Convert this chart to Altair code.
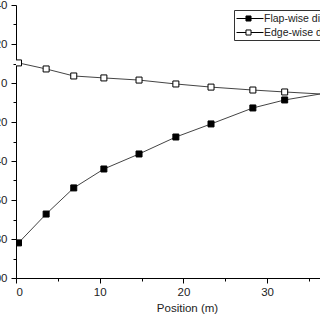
import altair as alt
import pandas as pd

positions = [0.3, 3.6, 6.9, 10.5, 14.7, 19.1, 23.3, 28.3, 32.1, 37.5]
flapwise = [-82.0, -67.2, -53.8, -44.1, -36.4, -27.7, -21.0, -12.8, -8.7, -4.8]
edgewise = [10.3, 7.2, 3.6, 2.6, 1.5, -0.5, -2.1, -3.6, -4.6, -5.9]
series_names = ["Flap-wise direction", "Edge-wise direction"]

x_major = [0, 10, 20, 30]
x_minor = [5, 15, 25, 35]
y_major = [40, 20, 0, -20, -40, -60, -80, -100]
y_minor = [30, 10, -10, -30, -50, -70, -90]

rows = []
for p, v in zip(positions, flapwise):
    rows.append({"pos": p, "val": v, "series": series_names[0]})
for p, v in zip(positions, edgewise):
    rows.append({"pos": p, "val": v, "series": series_names[1]})
df = pd.DataFrame(rows)

FONT = "Liberation Sans"
xscale = alt.Scale(domain=[0, 36.32], nice=False, zero=False)
yscale = alt.Scale(domain=[-100, 40], nice=False, zero=False)

legend_path = "M-1,0H0.58M1.42,0H3.5M0.58,-0.42H1.42V0.42H0.58Z"

lines = alt.Chart(df).mark_line(color="#444", strokeWidth=1, clip=True).encode(
    x=alt.X("pos:Q", scale=xscale,
            axis=alt.Axis(orient="bottom", values=x_minor, labels=False, domain=False,
                          grid=False, tickSize=3, tickColor="black", title=None)),
    y=alt.Y("val:Q", scale=yscale,
            axis=alt.Axis(orient="left", values=y_minor, labels=False, domain=False,
                          grid=False, tickSize=3, tickColor="black", title=None)),
    detail="series:N",
)

points = alt.Chart(df).mark_point(shape="square", size=36, stroke="black",
                                   strokeWidth=1, opacity=1, filled=False, clip=True).encode(
    x=alt.X("pos:Q", scale=xscale,
            axis=alt.Axis(orient="bottom", values=x_major, grid=False, tickSize=5,
                          tickColor="black", domainColor="black", labelColor="#222",
                          labelFont=FONT, labelFontSize=11.5, labelPadding=3,
                          title="Position (m)", titleFont=FONT, titleFontSize=11.5,
                          titleFontWeight="normal", titleColor="#222", titlePadding=5,
                          titleX=171)),
    y=alt.Y("val:Q", scale=yscale,
            axis=alt.Axis(orient="left", values=y_major, grid=False, tickSize=5,
                          tickColor="black", domainColor="black", labelColor="#222",
                          labelFont=FONT, labelFontSize=11.5, labelPadding=4, title=None)),
    fill=alt.Fill("series:N",
                  scale=alt.Scale(domain=series_names, range=["black", "white"]),
                  legend=alt.Legend(title=None, orient="none", legendX=218, legendY=5,
                                    strokeColor="#333", fillColor="white", padding=2,
                                    labelFont=FONT, labelFontSize=10.5, labelColor="#222",
                                    symbolType=legend_path, symbolSize=144,
                                    symbolStrokeColor="black", symbolStrokeWidth=1,
                                    rowPadding=2, labelOffset=15)),
)

chart = alt.layer(lines, points).resolve_axis(x="independent", y="independent").properties(
    width=304, height=273,
    autosize=alt.AutoSizeParams(type="none"),
    padding={"left": 16, "top": 5, "right": 0, "bottom": 42},
    background="white",
).configure_view(strokeWidth=0)

chart.save("out.html", embed_options={"renderer": "svg", "actions": False})
